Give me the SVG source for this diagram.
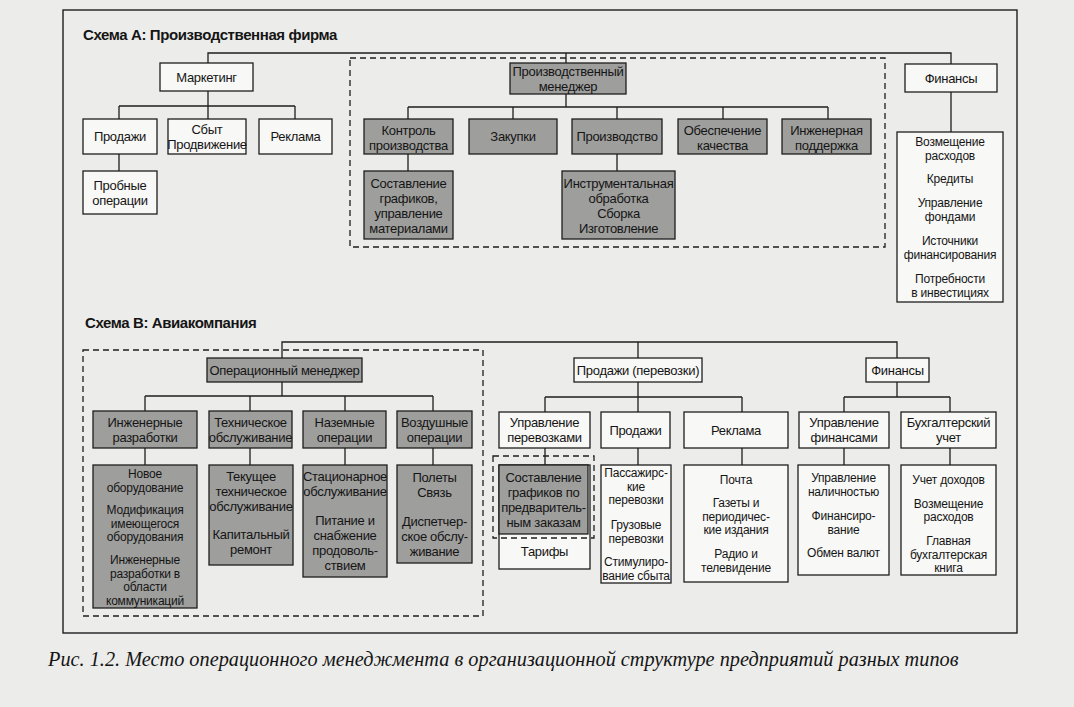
<svg xmlns="http://www.w3.org/2000/svg" width="1074" height="707" viewBox="0 0 1074 707">
<style>
.bg{fill:#ececea}
.frame{fill:none;stroke:#1e1e1e;stroke-width:1.4}
.box{fill:#f8f8f6;stroke:#1e1e1e;stroke-width:1.3}
.gray{fill:#9e9e9c;stroke:#1e1e1e;stroke-width:1.3}
.dash{fill:none;stroke:#1e1e1e;stroke-width:1.3;stroke-dasharray:6 4}
.con path{fill:none;stroke:#1e1e1e;stroke-width:1.3}
text{font-family:"Liberation Sans",Arial,sans-serif;font-size:13px;letter-spacing:-0.3px;fill:#151515;text-anchor:middle}
.s text{font-size:12px;letter-spacing:-0.2px}
.title{font-size:15px;font-weight:bold;letter-spacing:-0.4px;text-anchor:start}
.cap{font-family:"Liberation Serif","Times New Roman",serif;font-style:italic;font-size:20.3px;letter-spacing:0;text-anchor:start}
</style>
<rect class="bg" x="0" y="0" width="1074" height="707"/>
<rect class="frame" x="63" y="10" width="954" height="623"/>

<text class="title" x="83" y="40">Схема А: Производственная фирма</text>
<text class="title" x="85" y="328">Схема В: Авиакомпания</text>

<rect class="dash" x="350" y="58" width="535" height="189"/>
<rect class="dash" x="83" y="350" width="400" height="266"/>

<g class="con" id="connectors">
<path d="M208,63 V53 H951 V64 M566,53 V63"/>
<path d="M208,91 V106 M119,106 H295 M119,106 V119 M208,106 V119 M295,106 V119 M119,154 V171"/>
<path d="M566,94 V107 M408,107 H828 M408,107 V119 M513,107 V119 M617,107 V119 M723,107 V119 M828,107 V119 M408,154 V171 M617,154 V171"/>
<path d="M951,92 V132"/>
<path d="M282,358 V342 H897 V358 M638,342 V358"/>
<path d="M282,382 V396 M145,396 H433 M145,396 V411 M250,396 V411 M345,396 V411 M433,396 V411 M145,448 V465 M250,448 V465 M345,448 V465 M433,448 V465"/>
<path d="M638,382 V397 M545,397 H742 M545,397 V412 M638,397 V412 M742,397 V412 M545,448 V465 M638,448 V465 M742,448 V465"/>
<path d="M897,382 V397 M844,397 H950 M844,397 V412 M950,397 V412 M844,448 V465 M950,448 V465"/>
</g>

<g id="marketing"><rect class="box" x="160" y="63" width="93" height="28"/><text x="206.5" y="81.5">Маркетинг</text></g>
<g id="a-prodazhi"><rect class="box" x="83" y="119" width="74" height="35"/><text x="120" y="141">Продажи</text></g>
<g id="a-sbyt"><rect class="box" x="168" y="119" width="78" height="35"/><text x="207" y="134">Сбыт</text><text x="207" y="148.5">Продвижение</text></g>
<g id="a-reklama"><rect class="box" x="259" y="119" width="73" height="35"/><text x="295.5" y="141">Реклама</text></g>
<g id="a-probnye"><rect class="box" x="83" y="171" width="74" height="43"/><text x="120" y="190">Пробные</text><text x="120" y="204.5">операции</text></g>

<g id="prod-manager"><rect class="gray" x="510" y="63" width="116" height="31"/><text x="568" y="76">Производственный</text><text x="568" y="90.5">менеджер</text></g>
<g id="kontrol"><rect class="gray" x="364" y="119" width="89" height="35"/><text x="408.5" y="134.5">Контроль</text><text x="408.5" y="149.5">производства</text></g>
<g id="zakupki"><rect class="gray" x="469" y="119" width="88" height="35"/><text x="513" y="141">Закупки</text></g>
<g id="proizvodstvo"><rect class="gray" x="572" y="119" width="90" height="35"/><text x="617" y="141">Производство</text></g>
<g id="kachestvo"><rect class="gray" x="678" y="119" width="89" height="35"/><text x="722.5" y="134.5">Обеспечение</text><text x="722.5" y="149.5">качества</text></g>
<g id="inzh-podderzhka"><rect class="gray" x="782" y="119" width="89" height="35"/><text x="826.5" y="134.5">Инженерная</text><text x="826.5" y="149.5">поддержка</text></g>
<g id="sostavlenie-a"><rect class="gray" x="364" y="171" width="89" height="68"/><text x="408.5" y="187.5">Составление</text><text x="408.5" y="202.5">графиков,</text><text x="408.5" y="217.5">управление</text><text x="408.5" y="232.5">материалами</text></g>
<g id="instrument"><rect class="gray" x="562" y="171" width="113" height="68"/><text x="618.5" y="187.5">Инструментальная</text><text x="618.5" y="202.5">обработка</text><text x="618.5" y="217.5">Сборка</text><text x="618.5" y="232.5">Изготовление</text></g>

<g id="a-finansy"><rect class="box" x="905" y="64" width="92" height="28"/><text x="951" y="82.5">Финансы</text></g>
<g id="a-finansy-list" class="s"><rect class="box" x="897" y="132" width="106" height="170"/>
<text x="950" y="146">Возмещение</text><text x="950" y="159.5">расходов</text><text x="950" y="183">Кредиты</text><text x="950" y="207">Управление</text><text x="950" y="220.5">фондами</text><text x="950" y="245">Источники</text><text x="950" y="258.5">финансирования</text><text x="950" y="283">Потребности</text><text x="950" y="296.5">в инвестициях</text></g>

<g id="op-manager"><rect class="gray" x="207" y="358" width="155" height="24"/><text x="284.5" y="374.5">Операционный менеджер</text></g>
<g id="inzh-razrab"><rect class="gray" x="93" y="411" width="104" height="37"/><text x="145" y="426.5">Инженерные</text><text x="145" y="442">разработки</text></g>
<g id="tech-obsl"><rect class="gray" x="209" y="411" width="83" height="37"/><text x="250.5" y="426.5">Техническое</text><text x="250.5" y="442">обслуживание</text></g>
<g id="nazemnye"><rect class="gray" x="303" y="411" width="83" height="37"/><text x="344.5" y="426.5">Наземные</text><text x="344.5" y="442">операции</text></g>
<g id="vozdushnye"><rect class="gray" x="397" y="411" width="75" height="37"/><text x="434.5" y="426.5">Воздушные</text><text x="434.5" y="442">операции</text></g>
<g id="novoe" class="s"><rect class="gray" x="93" y="465" width="104" height="143"/>
<text x="145" y="478">Новое</text><text x="145" y="491.5">оборудование</text><text x="145" y="514">Модификация</text><text x="145" y="527.5">имеющегося</text><text x="145" y="541">оборудования</text><text x="145" y="564">Инженерные</text><text x="145" y="577.5">разработки в</text><text x="145" y="591">области</text><text x="145" y="604.5">коммуникаций</text></g>
<g id="tekushchee"><rect class="gray" x="209" y="465" width="84" height="100"/>
<text x="251" y="481">Текущее</text><text x="251" y="496">техническое</text><text x="251" y="511">обслуживание</text><text x="251" y="539">Капитальный</text><text x="251" y="554">ремонт</text></g>
<g id="stacionarnoe"><rect class="gray" x="303" y="465" width="84" height="112"/>
<text x="345" y="481">Стационарное</text><text x="345" y="496">обслуживание</text><text x="345" y="525">Питание и</text><text x="345" y="540">снабжение</text><text x="345" y="555">продоволь-</text><text x="345" y="570">ствием</text></g>
<g id="polety"><rect class="gray" x="397" y="465" width="75" height="98"/>
<text x="434.5" y="482">Полеты</text><text x="434.5" y="497">Связь</text><text x="434.5" y="526">Диспетчер-</text><text x="434.5" y="541">ское обслу-</text><text x="434.5" y="556">живание</text></g>

<g id="prodazhi-perevozki"><rect class="box" x="574" y="358" width="128" height="24"/><text x="638" y="374.5">Продажи (перевозки)</text></g>
<g id="upr-perevozkami"><rect class="box" x="499" y="412" width="91" height="36"/><text x="544.5" y="426.5">Управление</text><text x="544.5" y="441.5">перевозками</text></g>
<g id="b-prodazhi"><rect class="box" x="601" y="412" width="69" height="36"/><text x="635.5" y="434.5">Продажи</text></g>
<g id="b-reklama"><rect class="box" x="684" y="412" width="104" height="36"/><text x="736" y="434.5">Реклама</text></g>
<g id="tarify"><rect class="box" x="499" y="465" width="91" height="104"/><text x="544.5" y="556">Тарифы</text></g>
<g id="sostavlenie-b"><rect class="gray" x="499" y="465" width="89" height="69"/>
<text x="543.5" y="482">Составление</text><text x="543.5" y="497">графиков по</text><text x="543.5" y="512">предваритель-</text><text x="543.5" y="527">ным заказам</text></g>
<rect class="dash" x="493" y="456" width="101" height="82"/>
<g id="b-prodazhi-list" class="s"><rect class="box" x="601" y="465" width="70" height="118"/>
<text x="636" y="477">Пассажирс-</text><text x="636" y="490.5">кие</text><text x="636" y="504">перевозки</text><text x="636" y="529">Грузовые</text><text x="636" y="542.5">перевозки</text><text x="636" y="566">Стимулиро-</text><text x="636" y="579.5">вание сбыта</text></g>
<g id="b-reklama-list" class="s"><rect class="box" x="684" y="465" width="104" height="117"/>
<text x="736" y="484">Почта</text><text x="736" y="507">Газеты и</text><text x="736" y="520.5">периодичес-</text><text x="736" y="534">кие издания</text><text x="736" y="558">Радио и</text><text x="736" y="571.5">телевидение</text></g>

<g id="b-finansy"><rect class="box" x="866" y="358" width="63" height="24"/><text x="897.5" y="374.5">Финансы</text></g>
<g id="upr-finansami"><rect class="box" x="799" y="412" width="90" height="36"/><text x="844" y="426.5">Управление</text><text x="844" y="441.5">финансами</text></g>
<g id="buhgalterskiy"><rect class="box" x="901" y="412" width="95" height="36"/><text x="948.5" y="426.5">Бухгалтерский</text><text x="948.5" y="441.5">учет</text></g>
<g id="upr-finansami-list" class="s"><rect class="box" x="798" y="465" width="91" height="110"/>
<text x="843.5" y="482">Управление</text><text x="843.5" y="495.5">наличностью</text><text x="843.5" y="520">Финансиро-</text><text x="843.5" y="533.5">вание</text><text x="843.5" y="557">Обмен валют</text></g>
<g id="buhgalterskiy-list" class="s"><rect class="box" x="901" y="465" width="95" height="110"/>
<text x="948.5" y="484">Учет доходов</text><text x="948.5" y="507.5">Возмещение</text><text x="948.5" y="521">расходов</text><text x="948.5" y="545">Главная</text><text x="948.5" y="558.5">бухгалтерская</text><text x="948.5" y="572">книга</text></g>

<text class="cap" x="48" y="666">Рис. 1.2. Место операционного менеджмента в организационной структуре предприятий разных типов</text>
</svg>
